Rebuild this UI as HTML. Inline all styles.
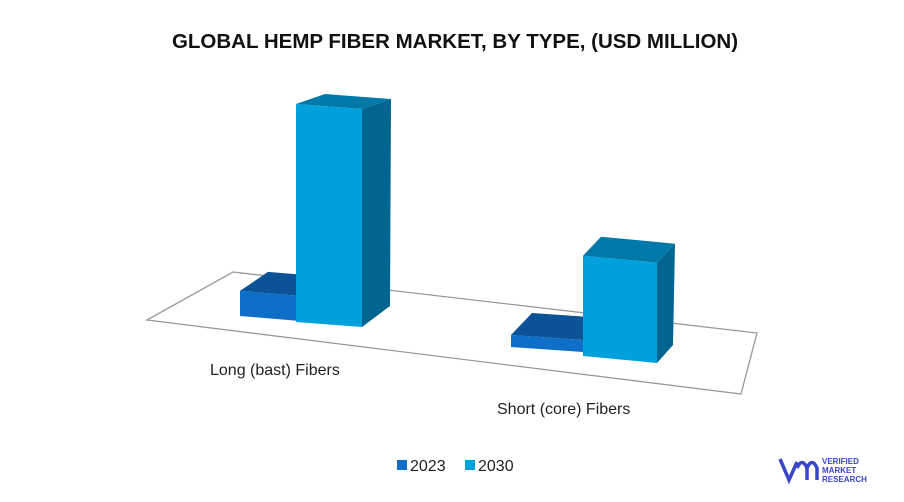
<!DOCTYPE html>
<html><head><meta charset="utf-8"><style>
body{margin:0;background:#fff;width:904px;height:497px;overflow:hidden;font-family:"Liberation Sans",sans-serif}
</style></head><body>
<svg width="904" height="497">
<text x="455" y="48" text-anchor="middle" font-size="20.5" font-weight="bold" fill="#111">GLOBAL HEMP FIBER MARKET, BY TYPE, (USD MILLION)</text>
<polygon points="233,272 757,333 741,394 147,320" fill="none" stroke="#999" stroke-width="1.3"/>
<g id="bars"></g>
<text x="210" y="375" font-size="16" fill="#222">Long (bast) Fibers</text>
<text x="497" y="414" font-size="16" fill="#222">Short (core) Fibers</text>
<rect x="397" y="460" width="10" height="10" fill="#0D6FC8"/>
<text x="410" y="471" font-size="16" fill="#222">2023</text>
<rect x="465" y="460" width="10" height="10" fill="#00A0DC"/>
<text x="478" y="471" font-size="16" fill="#222">2030</text>
<g>
<path d="M780,459 L789,480 L797,462 M797,468 Q802,457 807,468 L807,480 M807,468 Q812,457 817,468 L817,480" fill="none" stroke="#3a46c8" stroke-width="3.5"/>
<text x="822" y="464" font-size="8" font-weight="bold" fill="#3a46c8">VERIFIED</text>
<text x="822" y="473" font-size="8" font-weight="bold" fill="#3a46c8">MARKET</text>
<text x="822" y="482" font-size="8" font-weight="bold" fill="#3a46c8">RESEARCH</text>
</g>
</svg>
<script>
const categories=["Long (bast) Fibers","Short (core) Fibers"];
const series2023=[11.5,5.5];
const series2030=[100,46];
const pxPerUnit=2.18;
const geom=[
 {a:{x:240,y:316,w:[60,5],d:[28,-20],td:[28,-19]}, b:{x:296,y:322,w:[66,5],d:[28,-21],td:[29,-10]}},
 {a:{x:511,y:347,w:[72,5],d:[18,-19],td:[21,-22]}, b:{x:583,y:356,w:[74,7],d:[16,-18],td:[18,-19]}}
];
const cols={a:["#0D6FC8","#0B5296","#094785"],b:["#00A0DC","#0079A8","#00668F"]};
const g=document.getElementById('bars');
const NS="http://www.w3.org/2000/svg";
function poly(pts,fill,name){const p=document.createElementNS(NS,'polygon');
p.setAttribute('points',pts.map(q=>q.join(',')).join(' '));p.setAttribute('fill',fill);


g.appendChild(p);}
function bar(o,v,c,name){const h=v*pxPerUnit;
const A=[o.x,o.y],B=[o.x+o.w[0],o.y+o.w[1]];
const At=[A[0],A[1]-h],Bt=[B[0],B[1]-h];
const Bd=[B[0]+o.d[0],B[1]+o.d[1]];
const Btd=[Bt[0]+o.td[0],Bt[1]+o.td[1]],Atd=[At[0]+o.td[0],At[1]+o.td[1]];
poly([B,Bd,Btd,Bt],c[2],name+'-side');
poly([At,Bt,Btd,Atd],c[1],name+'-top');
poly([A,B,Bt,At],c[0],name+'-front');}
categories.forEach((cat,i)=>{
 bar(geom[i].a,series2023[i],cols.a,'bar-2023-'+i);
 bar(geom[i].b,series2030[i],cols.b,'bar-2030-'+i);
});
</script>
</body></html>
